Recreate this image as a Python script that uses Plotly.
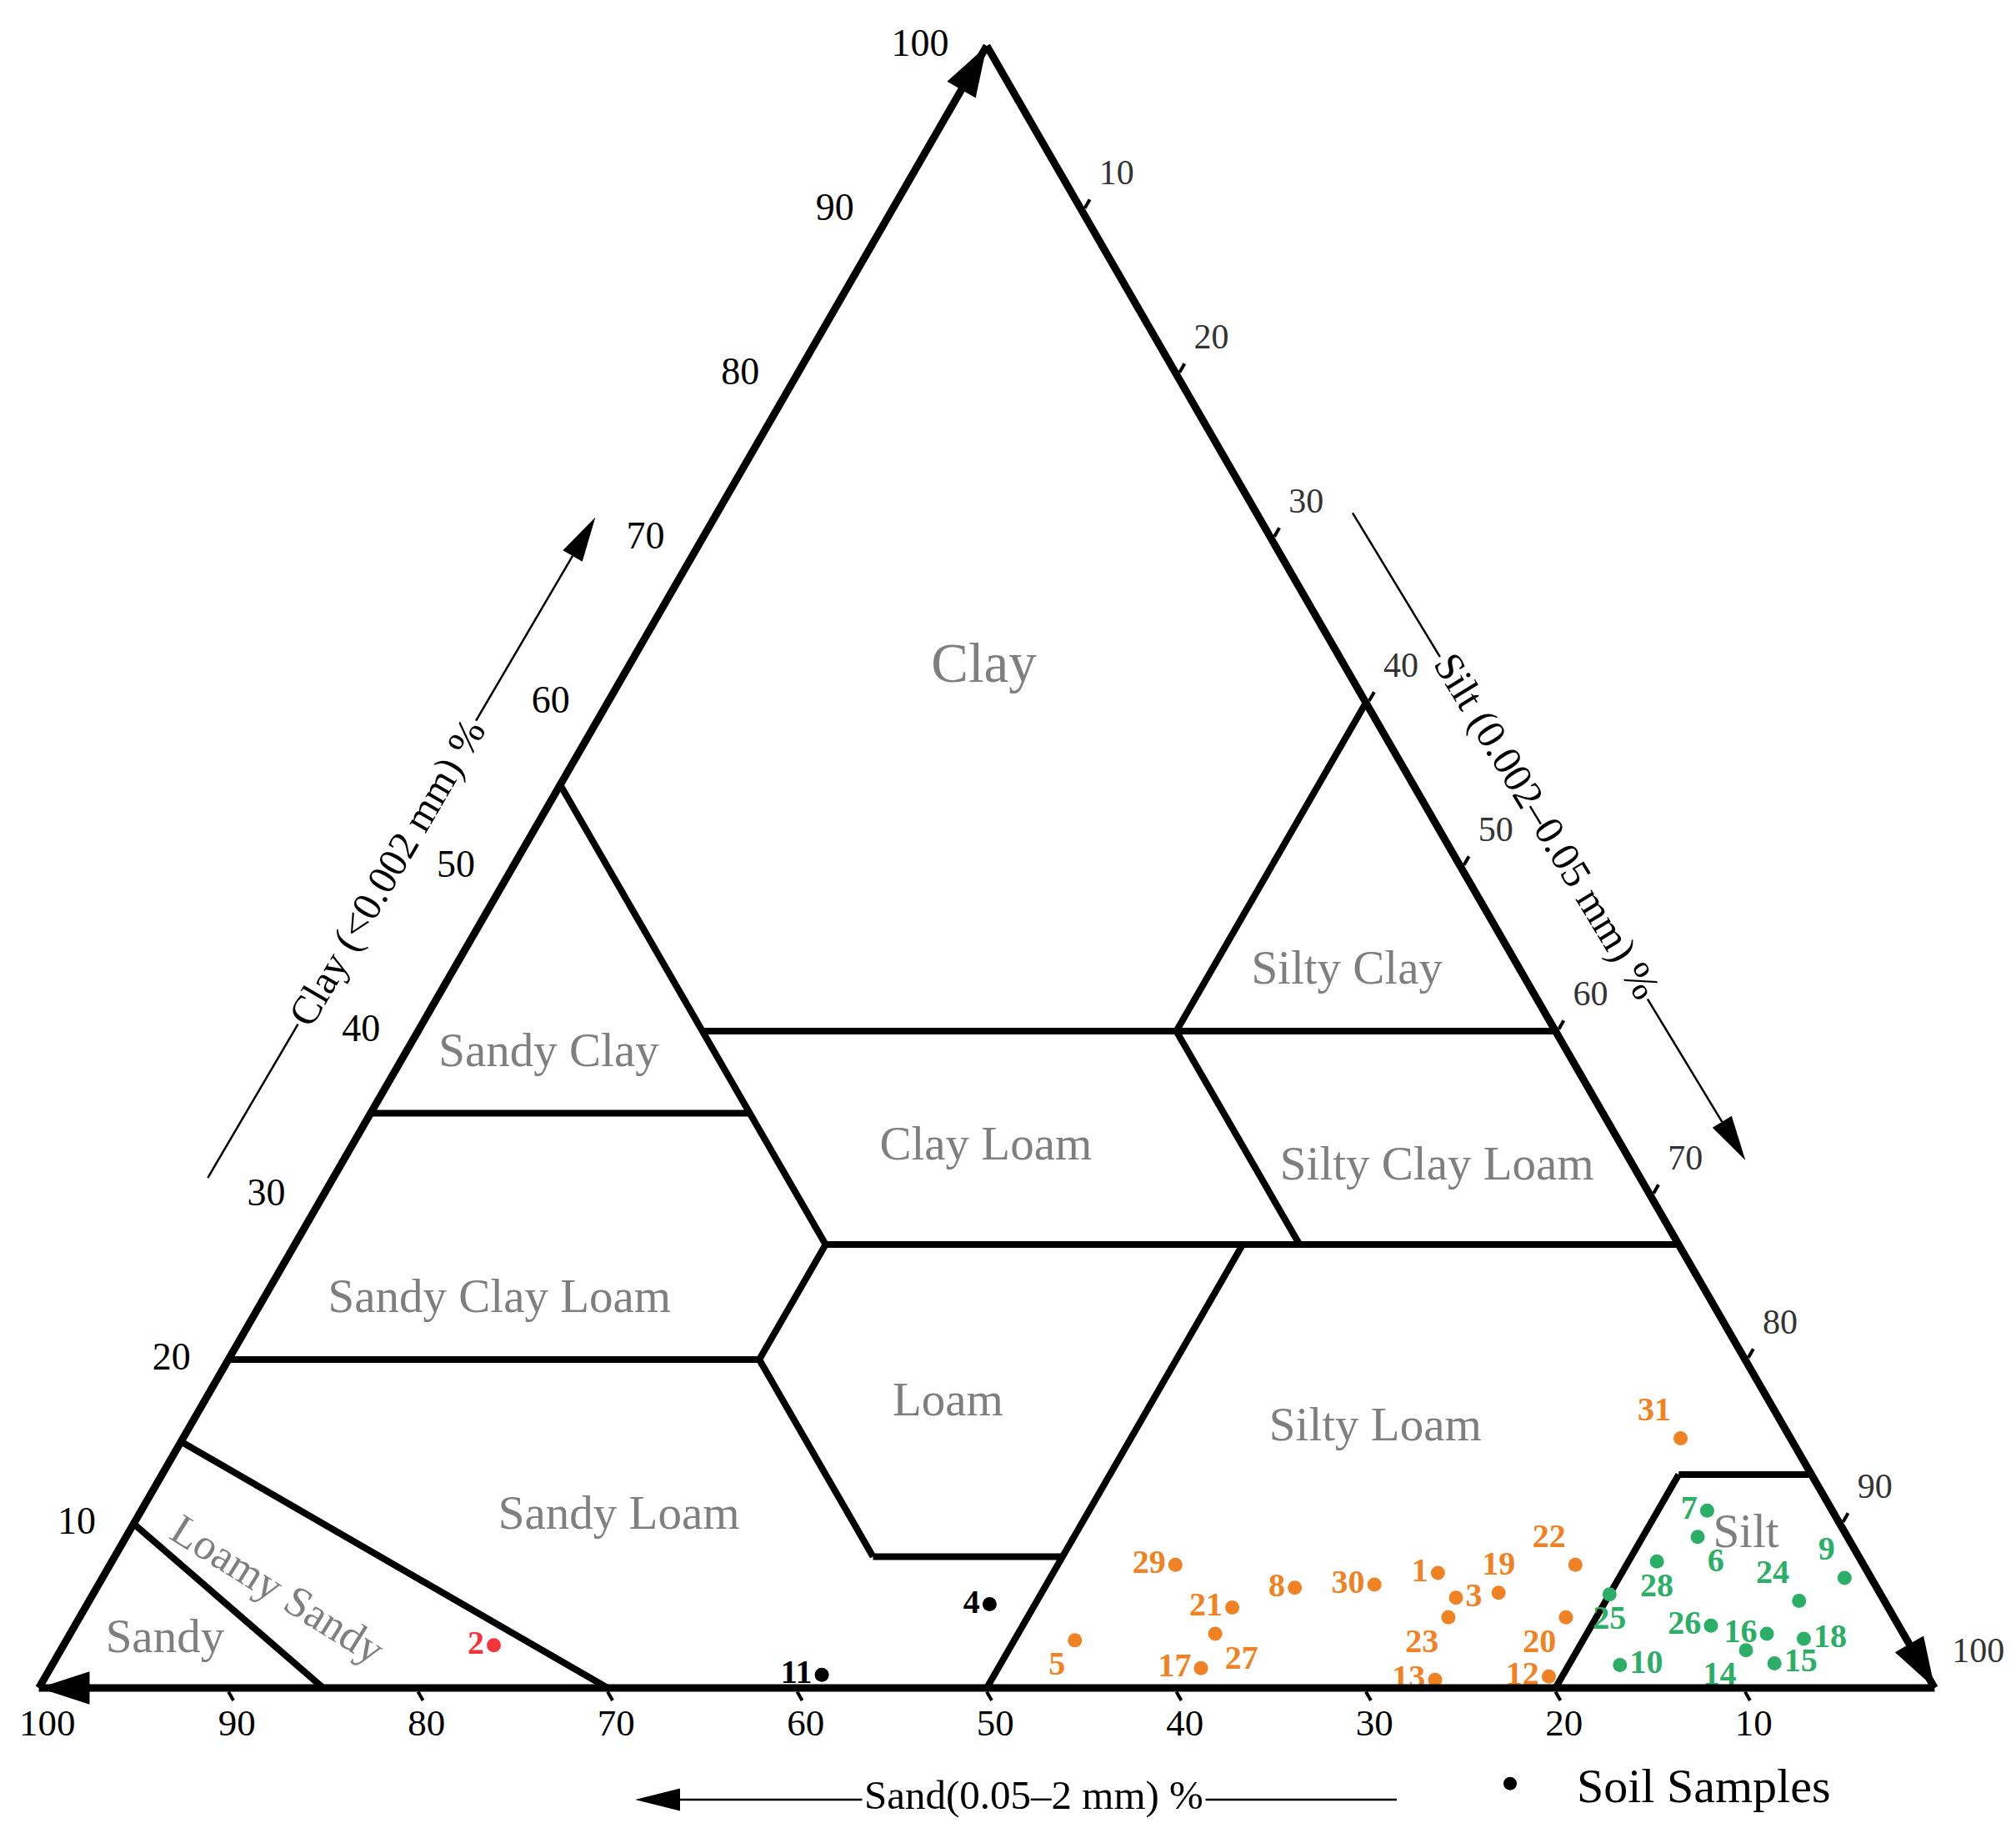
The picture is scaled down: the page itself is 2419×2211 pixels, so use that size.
import math
import plotly.graph_objects as go

# ---------------- soil samples (percent) ----------------
sample_id = list(range(1, 32))
clay = [7.0, 2.6, 5.5, 5.1, 2.9, 9.2, 10.8, 6.1, 6.7, 1.4,
        0.8, 0.7, 0.5, 2.3, 1.5, 3.3, 1.2, 3.0, 5.8, 4.3,
        4.9, 7.5, 4.3, 5.3, 5.7, 3.8, 3.3, 7.7, 7.5, 6.3, 15.2]
silt = [70.3, 22.7, 72.0, 47.6, 53.2, 82.9, 82.6, 63.2, 91.9, 82.7,
        40.9, 79.3, 73.4, 88.9, 90.8, 89.5, 60.7, 91.6, 74.1, 78.4,
        60.5, 77.3, 72.2, 90.2, 80.0, 86.3, 60.4, 81.5, 56.2, 67.3, 79.0]
sand = [22.7, 74.7, 22.5, 47.3, 43.9, 7.9, 6.6, 30.7, 1.4, 15.9,
        58.3, 20.0, 26.1, 8.8, 7.7, 7.2, 38.1, 5.4, 20.1, 17.3,
        34.6, 15.2, 23.5, 4.5, 14.3, 9.9, 36.3, 10.8, 36.3, 26.4, 5.8]
texture = ['Silty Loam', 'Loamy Sandy', 'Silty Loam', 'Sandy Loam', 'Silty Loam',
           'Silt', 'Silt', 'Silty Loam', 'Silt', 'Silt',
           'Sandy Loam', 'Silty Loam', 'Silty Loam', 'Silt', 'Silt',
           'Silt', 'Silty Loam', 'Silt', 'Silty Loam', 'Silty Loam',
           'Silty Loam', 'Silty Loam', 'Silty Loam', 'Silt', 'Silt',
           'Silt', 'Silty Loam', 'Silt', 'Silty Loam', 'Silty Loam', 'Silty Loam']

# where each number sits next to its dot
label_pos = ['middle left', 'middle left', 'middle right', 'middle left', 'bottom left',
             'bottom right', 'middle left', 'middle left', 'top left', 'middle right',
             'middle left', 'middle left', 'middle left', 'bottom left', 'middle right',
             'middle left', 'middle left', 'middle right', 'top center', 'bottom left',
             'middle left', 'top left', 'bottom left', 'top left', 'bottom center',
             'middle left', 'bottom right', 'bottom center', 'middle left', 'middle left',
             'top left']

texture_color = {'Silty Loam': '#F08224', 'Silt': '#2BAE66',
                 'Sandy Loam': '#000000', 'Loamy Sandy': '#F2353B'}

# ---------------- texture class boundaries (clay, sand, silt) ----------------
boundaries = [
    ((55, 45, 0), (27, 45, 28)),
    ((40, 45, 15), (40, 0, 60)),
    ((60, 0, 40), (40, 20, 40)),
    ((40, 20, 40), (27, 20, 53)),
    ((35, 65, 0), (35, 45, 20)),
    ((27, 45, 28), (27, 0, 73)),
    ((20, 80, 0), (20, 52, 28)),
    ((20, 52, 28), (27, 45, 28)),
    ((20, 52, 28), (8, 52, 40)),
    ((8, 52, 40), (8, 42, 50)),
    ((0, 50, 50), (27, 23, 50)),
    ((0, 20, 80), (13, 7, 80)),
    ((13, 7, 80), (13, 0, 87)),
    ((15, 85, 0), (0, 70, 30)),
    ((10, 90, 0), (0, 85, 15)),
]

region_names = ['Clay', 'Silty Clay', 'Sandy Clay', 'Clay Loam', 'Silty Clay Loam',
                'Sandy Clay Loam', 'Loam', 'Silty Loam', 'Sandy Loam', 'Silt', 'Sandy']
region_clay = [62.1, 43.6, 38.6, 32.9, 31.7, 23.6, 17.3, 15.8, 10.4, 9.3, 2.9]
region_sand = [19.1, 9.2, 53.8, 33.6, 10.4, 63.9, 43.4, 21.6, 64.2, 5.3, 91.9]
region_silt = [18.8, 47.2, 7.6, 33.5, 57.9, 12.5, 39.3, 62.6, 25.4, 85.4, 5.2]

tick_vals = [10, 20, 30, 40, 50, 60, 70, 80, 90, 100]

# ---------------- page geometry ----------------
FIG_W, FIG_H = 2403, 2195
PAGE_PAD = 8
M = dict(l=38, r=89, t=47, b=178)
PLOT_W = FIG_W - M['l'] - M['r']
PLOT_H = FIG_H - M['t'] - M['b']
SIDE = PLOT_H * 2 / math.sqrt(3)
SERIF = 'Liberation Serif, Times New Roman, serif'
SAND_LABEL_SHIFT = 0.45  # bottom labels sit a little right of their ticks


def to_paper(xs, ys):
    # screen pixel -> paper coords
    return (xs - PAGE_PAD - M['l']) / PLOT_W, 1 - (ys - PAGE_PAD - M['t']) / PLOT_H


def tern_to_paper(a, c):
    x = (PLOT_W - SIDE) / 2 + (c + a / 2) / 100 * SIDE
    return x / PLOT_W, a / 100


def arrow_shapes(tail, tip, head_len=54, head_w=27, width=2.5):
    dx, dy = tip[0] - tail[0], tip[1] - tail[1]
    n = math.hypot(dx, dy)
    ux, uy = dx / n, dy / n
    bx, by = tip[0] - ux * head_len, tip[1] - uy * head_len
    px, py = -uy * head_w / 2, ux * head_w / 2
    p0 = to_paper(*tail)
    pb = to_paper(bx, by)
    pts = [to_paper(*tip), to_paper(bx + px, by + py), to_paper(bx - px, by - py)]
    path = 'M {} {} L {} {} L {} {} Z'.format(*[v for p in pts for v in p])
    return [
        dict(type='line', xref='paper', yref='paper', x0=p0[0], y0=p0[1], x1=pb[0], y1=pb[1],
             line=dict(color='black', width=width)),
        dict(type='path', xref='paper', yref='paper', path=path,
             fillcolor='black', line=dict(color='black', width=0)),
    ]


fig = go.Figure()

# class boundaries
ba, bb, bc = [], [], []
for p, q in boundaries:
    ba += [p[0], q[0], None]
    bb += [p[1], q[1], None]
    bc += [p[2], q[2], None]
fig.add_trace(go.Scatterternary(a=ba, b=bb, c=bc, mode='lines',
                                line=dict(color='black', width=8),
                                hoverinfo='skip', showlegend=False))

# class names
fig.add_trace(go.Scatterternary(
    a=region_clay, b=region_sand, c=region_silt, mode='text', text=region_names,
    textfont=dict(family=SERIF, color='#7f7f7f',
                  size=[67 if n == 'Clay' else 57 for n in region_names]),
    hoverinfo='skip', showlegend=False, cliponaxis=False))

# tick labels (transparent markers set the gap to the edge)
blank = 'rgba(0,0,0,0)'
fig.add_trace(go.Scatterternary(
    a=tick_vals, b=[100 - v for v in tick_vals], c=[0] * len(tick_vals),
    mode='markers+text', text=[str(v) for v in tick_vals], textposition='middle left',
    marker=dict(size=71, color=blank), textfont=dict(family=SERIF, size=46, color='black'),
    hoverinfo='skip', showlegend=False, cliponaxis=False))
fig.add_trace(go.Scatterternary(
    a=[0] * len(tick_vals), b=[v - SAND_LABEL_SHIFT for v in tick_vals],
    c=[100 - v + SAND_LABEL_SHIFT for v in tick_vals],
    mode='markers+text', text=[str(v) for v in tick_vals], textposition='bottom center',
    marker=dict(size=36, color=blank), textfont=dict(family=SERIF, size=45, color='black'),
    hoverinfo='skip', showlegend=False, cliponaxis=False))
fig.add_trace(go.Scatterternary(
    a=[100 - v for v in tick_vals], b=[0] * len(tick_vals), c=tick_vals,
    mode='markers+text', text=[str(v) for v in tick_vals], textposition='top right',
    marker=dict(size=32, color=blank), textfont=dict(family=SERIF, size=42, color='#333333'),
    hoverinfo='skip', showlegend=False, cliponaxis=False))

# samples, one trace per texture class
for cls in ['Silty Loam', 'Silt', 'Loamy Sandy', 'Sandy Loam']:
    idx = [i for i, t in enumerate(texture) if t == cls]
    col = texture_color[cls]
    a = [clay[i] for i in idx]
    b = [sand[i] for i in idx]
    c = [silt[i] for i in idx]
    fig.add_trace(go.Scatterternary(
        a=a, b=b, c=c, mode='markers', name='Soil Samples',
        marker=dict(size=17, color=col),
        showlegend=(cls == 'Sandy Loam'), cliponaxis=False,
        hovertemplate='Clay %{a}%<br>Sand %{b}%<br>Silt %{c}%<extra></extra>'))
    fig.add_trace(go.Scatterternary(
        a=a, b=b, c=c, mode='markers+text', text=[str(sample_id[i]) for i in idx],
        textposition=[label_pos[i] for i in idx],
        marker=dict(size=17, color=blank),
        textfont=dict(family=SERIF, size=40, color=col, weight='bold'),
        hoverinfo='skip', showlegend=False, cliponaxis=False))

# arrow heads at the three corners
fig.add_trace(go.Scatterternary(
    a=[100, 0, 0], b=[0, 100, 0], c=[0, 0, 100], mode='markers',
    marker=dict(symbol='arrow', size=64, angle=[30, -90, 150], color='black'),
    hoverinfo='skip', showlegend=False, cliponaxis=False))

axis_common = dict(min=0, showline=True, linecolor='black', linewidth=9, showgrid=False,
                   showticklabels=False, title=dict(text=''))

fig.update_layout(
    width=FIG_W, height=FIG_H, margin=M,
    paper_bgcolor='white', font=dict(family=SERIF, color='black'),
    ternary=dict(
        sum=100, bgcolor='white',
        aaxis=dict(axis_common, ticks=''),
        baxis=dict(axis_common, ticks='outside', ticklen=12, tickwidth=4, tickcolor='black',
                   tickmode='array', tickvals=tick_vals[:-1]),
        caxis=dict(axis_common, ticks='outside', ticklen=12, tickwidth=4, tickcolor='black',
                   tickmode='array', tickvals=tick_vals[:-1]),
    ),
    legend=dict(x=to_paper(1732, 2140)[0], y=to_paper(1732, 2140)[1],
                xanchor='left', yanchor='middle', itemwidth=150,
                font=dict(family=SERIF, size=58, color='black'), bgcolor='rgba(0,0,0,0)'),
)

# axis titles with long arrows
titles = [
    ('Clay (&lt;0.002 mm) %', (249.3, 1413.1), (714.4, 620.4), (464.5, 1046.8)),
    ('Silt (0.002–0.05 mm) %', (1623.0, 615.3), (2094.3, 1392.0), (1856.0, 990.5)),
    ('Sand(0.05–2 mm) %', (1676.0, 2159.0), (762.0, 2159.0), (1240.0, 2153.0)),
]
shapes, annotations = [], []
for text, tail, tip, at in titles:
    shapes += arrow_shapes(tail, tip)
    ang = math.degrees(math.atan2(tip[1] - tail[1], tip[0] - tail[0]))
    if abs(ang) > 90:
        ang = 0
    x, y = to_paper(*at)
    annotations.append(dict(xref='paper', yref='paper', x=x, y=y, text=text, showarrow=False,
                            xanchor='center', yanchor='middle',
                            textangle=ang, bgcolor='white', borderpad=2,
                            font=dict(family=SERIF, size=49, color='black')))

lx, ly = tern_to_paper(6.0, 9.6)
annotations.append(dict(xref='paper', yref='paper', x=lx, y=ly, text='Loamy Sandy',
                        showarrow=False, textangle=32, xanchor='center', yanchor='middle',
                        font=dict(family=SERIF, size=52, color='#7f7f7f')))

fig.update_layout(shapes=shapes, annotations=annotations)

fig.write_html('out.html', config={'displayModeBar': False})
